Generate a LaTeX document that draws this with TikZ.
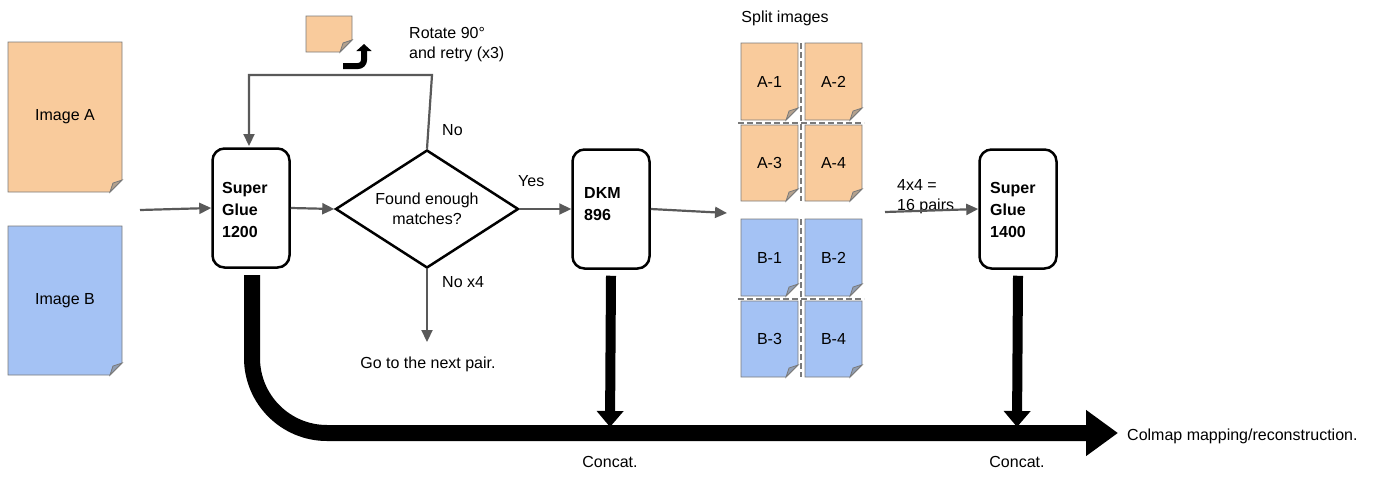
\documentclass[tikz,border=0pt]{standalone}
\usepackage{fontspec}
\setmainfont{Liberation Sans}
\usetikzlibrary{arrows.meta,shapes.geometric}
\definecolor{pgA}{HTML}{F9CB9C}
\definecolor{pgB}{HTML}{A4C2F4}
\definecolor{ln}{HTML}{595959}
\newcommand\pg[7]{%
  \filldraw[fill=#6,draw=ln!80,line width=0.8pt] (#2,#3) -- (#4,#3) -- (#4,#5-12) -- (#4-12,#5) -- (#2,#5) -- cycle;
  \filldraw[fill=#6!60!black!70,draw=ln!80,line width=0.8pt] (#4,#5-12) -- (#4-12,#5) -- (#4-9,#5-9) -- cycle;
  \node[txt] (#1) at ({(#2+#4)/2},{(#3+#5)/2}) {#7};}
\begin{document}
\begin{tikzpicture}[x=1pt,y=-1pt,
  txt/.style={font=\fontsize{16}{20}\selectfont,inner sep=0pt},
  box/.style={draw=black,line width=2.5pt,rounded corners=12pt,minimum width=77pt,minimum height=119pt,inner sep=0pt},
  bt/.style={font=\fontsize{16}{22}\selectfont\bfseries,align=left,inner sep=0pt,anchor=west},
  gar/.style={draw=ln,line width=2.2pt,-{Triangle[length=12pt,width=11pt]}},
  thk/.style={draw=black,line width=10pt,-{Triangle[length=16pt,width=26pt]}}]
\useasboundingbox (0,0) rectangle (1399,485);
\pg{imA}{8}{42}{122}{192}{pgA}{Image A}
\pg{imB}{8}{226}{122}{375}{pgB}{Image B}
\pg{rot}{306}{16}{352}{52}{pgA}{}
\pg{a1}{741}{43}{798}{120}{pgA}{A-1}
\pg{a2}{805}{43}{862}{120}{pgA}{A-2}
\pg{a3}{741}{125}{798}{201}{pgA}{A-3}
\pg{a4}{805}{125}{862}{201}{pgA}{A-4}
\pg{b1}{741}{219}{798}{296}{pgB}{B-1}
\pg{b2}{805}{219}{862}{296}{pgB}{B-2}
\pg{b3}{741}{301}{798}{377}{pgB}{B-3}
\pg{b4}{805}{301}{862}{377}{pgB}{B-4}
\draw[ln!80,line width=2pt,dash pattern=on 6pt off 3pt] (801,43) -- (801,201) (738,123) -- (864,123);
\draw[ln!80,line width=2pt,dash pattern=on 6pt off 3pt] (801,219) -- (801,377) (738,299) -- (864,299);
\node[txt,anchor=south] (split) at (785,26) {Split images};
\node[box] (sg1) at (251,208) {};
\node[bt] (sg1t) at (222,210) {Super\\Glue\\1200};
\node[box] (dkm) at (611,209) {};
\node[bt,anchor=north west] (dkmt) at (584,187) {DKM\\896};
\node[box] (sg2) at (1018,209) {};
\node[bt] (sg2t) at (990,210) {Super\\Glue\\1400};
\node[diamond,draw=black,line width=2.5pt,minimum width=183pt,minimum height=118pt,inner sep=0pt,aspect=1.55] (dia) at (427,209) {};
\node[txt,align=center] (diat) at (427,209) {Found enough\\matches?};
\coordinate (in) at (140,210);
\draw[gar] (in) -- (sg1.west);
\draw[gar] (sg1.east) -- (dia.west);
\draw[gar] (dia.north) -- (432,75) -- (249,75) -- (249,146);
\node[txt,anchor=west] (no) at (442,130) {No};
\node[txt,anchor=west,align=left] (rott) at (409,45) {Rotate 90°\\and retry (x3)};
\draw[black,line width=6pt,rounded corners=6pt,-{Triangle[length=7pt,width=15pt]}] (343,66) -- (364,66) -- (364,44);
\draw[gar] (dia.east) -- (dkm.west);
\node[txt,anchor=west] (yes) at (518,181) {Yes};
\coordinate (nxt) at (427,342);
\draw[gar] (dia.south) -- (nxt);
\node[txt,anchor=west] (nox4) at (442,282) {No x4};
\node[txt] (gonext) at (428,364) {Go to the next pair.};
\coordinate (spl) at (727,213);
\draw[gar] (dkm.east) -- (spl);
\node[txt,anchor=west,align=left] (pairs) at (897,197) {4x4 =\\16 pairs};
\coordinate (p0) at (885,212);
\draw[gar] (p0) -- (sg2.west);
\coordinate (dkmc) at (610,427);
\coordinate (sg2c) at (1017,427);
\draw[thk] ([yshift=-6pt]dkm.south) -- (dkmc);
\draw[thk] ([yshift=-6pt]sg2.south) -- (sg2c);
\coordinate (cm) at (1118,433);
\draw[black,line width=16pt,rounded corners=75pt,-{Triangle[length=32pt,width=44pt]}] (252,275) -- (252,433) -- (cm);
\node[txt,anchor=west] (colmap) at (1127,436) {Colmap mapping/reconstruction.};
\node[txt] (c1) at (610,462) {Concat.};
\node[txt] (c2) at (1017,462) {Concat.};
\end{tikzpicture}
\end{document}
